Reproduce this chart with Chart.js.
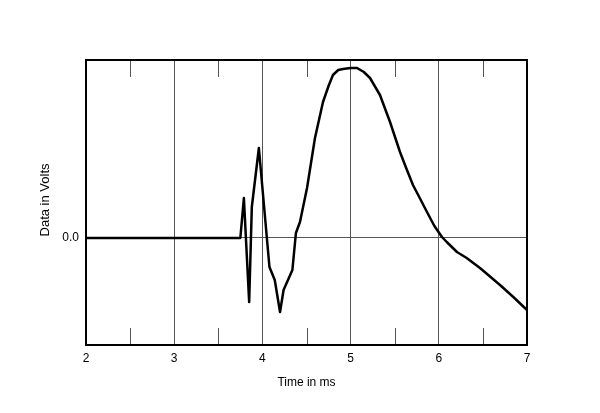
<!DOCTYPE html><html><head><script src="https://cdn.jsdelivr.net/npm/chart.js@4"></script>
<style>body{margin:0;background:#fff}</style></head><body><canvas id="c" width="600" height="413"></canvas>
<script>
const timeMs=[2.0,3.75,3.79,3.85,3.88,3.96,4.08,4.14,4.20,4.24,4.34,4.38,4.426,4.506,4.596,4.687,4.75,4.80,4.86,4.914,5.0,5.073,5.15,5.22,5.333,5.447,5.56,5.63,5.707,5.79,5.866,5.95,6.036,6.09,6.206,6.316,6.467,6.694,6.845,7.0];
const volts=[0,0,0.40,-0.64,0.31,0.90,-0.29,-0.42,-0.74,-0.52,-0.32,0.05,0.16,0.50,1.00,1.36,1.52,1.63,1.68,1.69,1.70,1.70,1.66,1.60,1.43,1.16,0.86,0.70,0.53,0.39,0.26,0.12,0.01,-0.04,-0.14,-0.20,-0.30,-0.47,-0.59,-0.72];
const xTicks=[2,3,4,5,6,7];
const xMinorTicks=[2.5,3.5,4.5,5.5,6.5];
const xTitle='Time in ms', yTitle='Data in Volts';
const font={family:'Liberation Sans, Arial',size:12};
new Chart(document.getElementById('c'),{type:'line',
data:{datasets:[{data:timeMs.map((t,i)=>({x:t,y:volts[i]})),borderColor:'#000',borderWidth:2.5,pointRadius:0,tension:0,borderJoinStyle:'round'}]},
options:{responsive:false,animation:false,layout:{padding:{top:60,right:73,left:0,bottom:0}},
plugins:{legend:{display:false},tooltip:{enabled:false}},
scales:{
x:{type:'linear',min:2,max:7,afterBuildTicks:a=>{a.ticks=xTicks.map(v=>({value:v}))},afterFit:a=>{a.height=68},
grid:{color:'#555',lineWidth:1,drawTicks:false},border:{color:'#000',width:2},
ticks:{color:'#000',font,padding:6}},
y:{min:-1.07,max:1.78,afterBuildTicks:a=>{a.ticks=[{value:0}]},afterFit:a=>{a.width=86},
grid:{color:'#555',lineWidth:1,drawTicks:false},border:{color:'#000',width:2},
ticks:{color:'#000',font,padding:7,callback:v=>v.toFixed(1)}}
}},
plugins:[{id:'frame',afterDraw(c){const a=c.chartArea,x=c.ctx,sx=c.scales.x;x.save();
x.strokeStyle='#555';x.lineWidth=1;
xMinorTicks.forEach(v=>{const p=Math.round(sx.getPixelForValue(v))+0.5;x.beginPath();x.moveTo(p,a.top);x.lineTo(p,a.top+17);x.moveTo(p,a.bottom);x.lineTo(p,a.bottom-17);x.stroke();});
x.strokeStyle='#000';x.lineWidth=2;x.strokeRect(a.left,a.top,a.right-a.left,a.bottom-a.top);
x.fillStyle='#000';x.font='12px Liberation Sans, Arial';x.textAlign='center';x.textBaseline='middle';
x.fillText(xTitle,(a.left+a.right)/2,383);
x.translate(45,200);x.rotate(-Math.PI/2);x.font='13px Liberation Sans, Arial';x.fillText(yTitle,0,0);
x.restore();}}]
});
</script></body></html>
